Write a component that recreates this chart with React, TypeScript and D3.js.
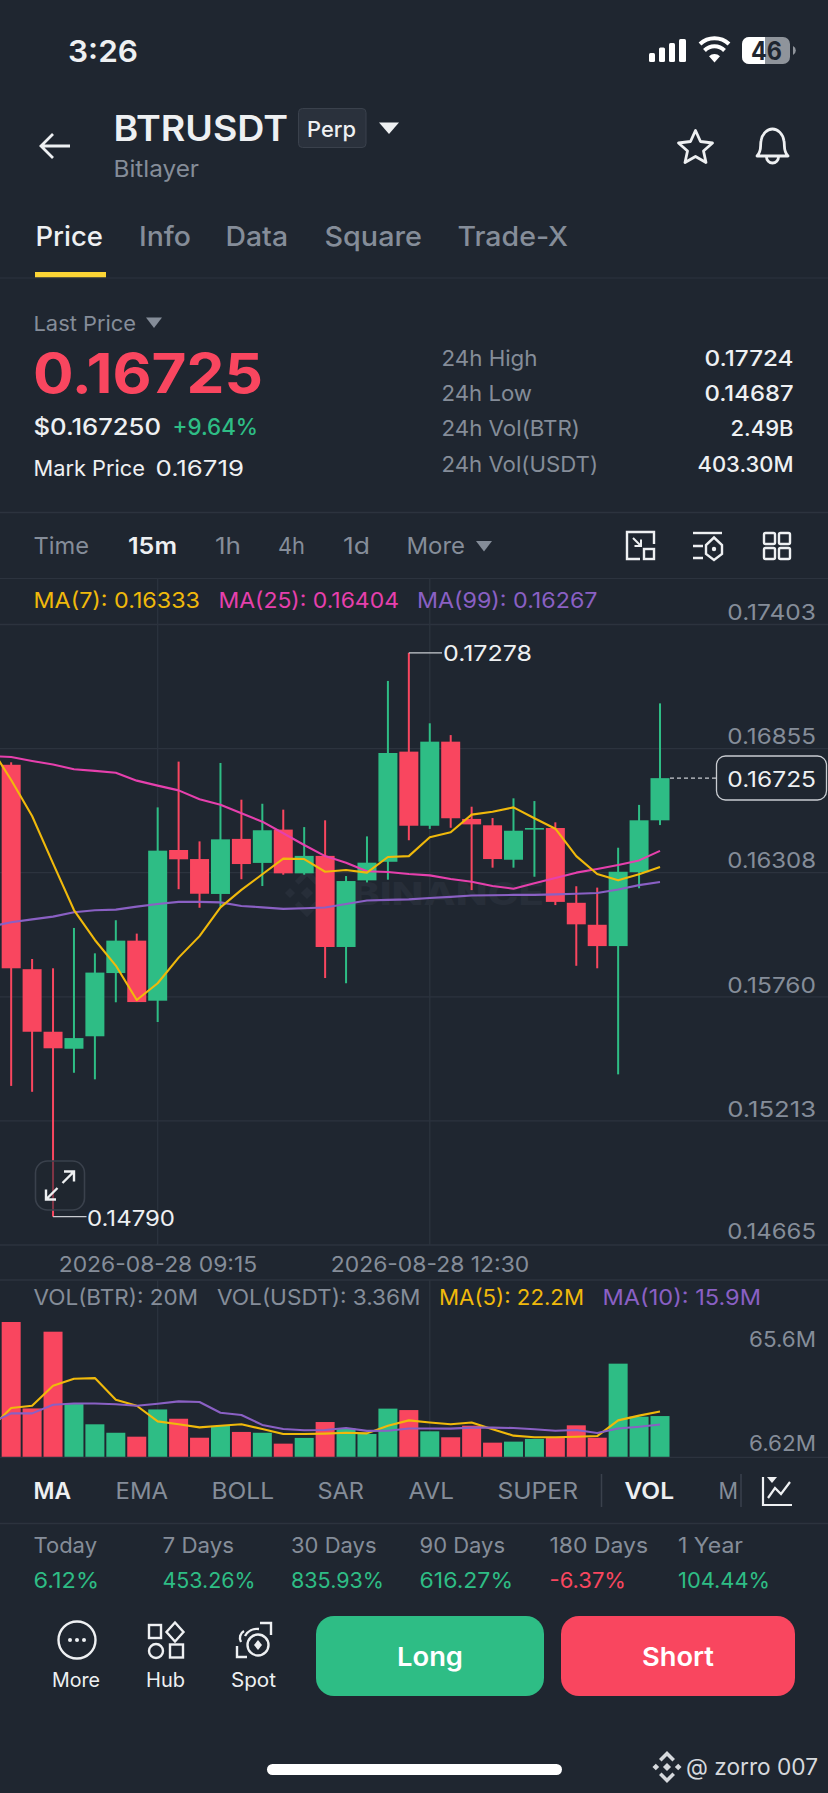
import React, { useEffect } from "react";
import * as d3 from "d3";

// ---------- chart data ----------
const opens = [0.16784,0.15882,0.15606,0.15531,0.15586,0.15865,0.16008,0.15743,0.16408,0.16368,0.16214,0.16457,0.16351,0.16498,0.16305,0.16382,0.1598,0.16274,0.16356,0.16842,0.16515,0.16886,0.16545,0.16517,0.16365,0.16499,0.16505,0.16175,0.16078,0.15984,0.1631,0.16539];
const closes = [0.15886,0.15606,0.15533,0.15578,0.15867,0.16008,0.15737,0.16405,0.16367,0.16215,0.16455,0.16346,0.16495,0.16305,0.16382,0.1598,0.16271,0.16352,0.16836,0.16515,0.16886,0.16548,0.16521,0.16368,0.16493,0.16505,0.16179,0.1608,0.15984,0.16312,0.16539,0.16725];
const highs = [0.16795,0.15927,0.15886,0.16064,0.15952,0.16098,0.16039,0.16596,0.16798,0.16446,0.16792,0.1663,0.16612,0.16586,0.16509,0.16539,0.16293,0.16468,0.17154,0.17278,0.16967,0.16915,0.16599,0.16549,0.16636,0.16624,0.1653,0.16248,0.16242,0.16418,0.16607,0.17055];
const lows = [0.15367,0.15341,0.1479,0.15425,0.15396,0.15736,0.15737,0.15649,0.16235,0.16153,0.16158,0.16279,0.16249,0.16299,0.16299,0.15843,0.1582,0.16265,0.16277,0.16451,0.16501,0.16506,0.16231,0.1633,0.1633,0.1629,0.16165,0.15897,0.15886,0.15418,0.16239,0.16518];
const volumes = [65.6,23.7,60.9,25.8,16.0,11.9,10.0,23.2,18.7,9.5,15.2,12.3,11.9,6.62,9.4,17.1,14.0,11.3,23.6,22.9,12.6,9.7,15.3,7.1,7.6,8.9,9.7,15.5,9.5,45.4,19.7,20.0];
// moving averages start one candle before the first visible one
const ma7 = [0.16864,0.16717,0.16558,0.16349,0.16143,0.16011,0.15898,0.15746,0.1582,0.15933,0.16028,0.16155,0.16232,0.16301,0.1637,0.16368,0.16312,0.1632,0.16308,0.16377,0.16381,0.16464,0.16486,0.16564,0.16577,0.16596,0.16548,0.16502,0.16381,0.16302,0.16274,0.16301,0.16333];
const ma25 = [0.16823,0.16818,0.16801,0.16785,0.16764,0.16757,0.16749,0.16714,0.16692,0.16671,0.16632,0.16608,0.1657,0.16533,0.16482,0.1643,0.16381,0.16352,0.16314,0.16311,0.16302,0.16296,0.1628,0.16268,0.16249,0.16237,0.16261,0.16284,0.16308,0.16324,0.16342,0.16362,0.16404];
const ma99 = [0.1607,0.16089,0.16102,0.16114,0.16133,0.16142,0.16145,0.16158,0.1617,0.16179,0.16179,0.16177,0.16161,0.16155,0.16148,0.16151,0.16154,0.1617,0.16185,0.16188,0.1619,0.16196,0.16201,0.16207,0.16208,0.1621,0.1621,0.16212,0.16215,0.16218,0.16234,0.16253,0.16267];
const volMa5 = [14.0,23.9,25.0,34.7,38.1,38.4,27.9,25.0,17.4,16.0,14.5,15.3,16.0,13.7,11.3,11.3,11.5,11.9,11.6,15.3,17.9,16.9,16.0,16.9,13.6,10.5,9.7,9.7,10.0,10.3,17.9,20.2,22.2];
const volMa10 = [16.5,21.3,21.3,25.5,26.1,26.1,25.7,25.0,26.0,27.1,26.8,21.6,20.5,15.7,13.7,13.1,13.2,14.2,12.8,12.9,14.0,14.0,13.9,14.4,14.4,14.2,13.6,12.9,13.2,11.8,14.0,14.8,15.9];
const priceTicks = [0.17403, 0.16855, 0.16308, 0.1576, 0.15213, 0.14665];
const timeTickIndex = [7, 20];
const timeTickLabels = ["2026-08-28 09:15", "2026-08-28 12:30"];
const volTicks = ["65.6M", "6.62M"];
const lastPrice = 0.16725;
const highMark = 0.17278;
const lowMark = 0.1479;

// ---------- page text ----------
const stats = [["24h High", "0.17724"], ["24h Low", "0.14687"], ["24h Vol(BTR)", "2.49B"], ["24h Vol(USDT)", "403.30M"]];
const perfLabels = ["Today", "7 Days", "30 Days", "90 Days", "180 Days", "1 Year"];
const perfValues = ["6.12%", "453.26%", "835.93%", "616.27%", "-6.37%", "104.44%"];

const BG = "#1f2630", GRID = "#2c333e", GRAY = "#858d99", WHITE = "#eef0f2";
const GREEN = "#2ebd85", RED = "#f9465f", YEL = "#f0b90b", PINK = "#e640ad", PUR = "#8a60c4";
const FONT = "Inter, Lato, sans-serif";

const x = d3.scaleLinear().domain([0, 31]).range([11.17, 660.0]);
const y = d3.scaleLinear().domain([0.14665, 0.17403]).range([1245, 624.5]);
const vy = d3.scaleLinear().domain([0, 65.6]).range([1457.3, 1322]);
const priceLine = d3.line<number>().x((_, i) => x(i - 1)).y((d) => y(d));
const volLine = d3.line<number>().x((_, i) => x(i - 1)).y((d) => vy(d));
const BODY = 19;

function T({ x, y, w, s, c = WHITE, fw = 400, children }: any) {
  return (
    <text x={x} y={y} fontSize={s * 0.94} fill={c} fontWeight={fw} fontFamily={FONT} textLength={w} lengthAdjust="spacingAndGlyphs">
      {children}
    </text>
  );
}

function Logo({ cx, cy, k, c }: any) {
  const sq = (dx: number, dy: number, r: number) => `M${cx + dx * k},${cy + (dy - r) * k}L${cx + (dx + r) * k},${cy + dy * k}L${cx + dx * k},${cy + (dy + r) * k}L${cx + (dx - r) * k},${cy + dy * k}Z`;
  const chev = (sgn: number) => `M${cx - 6 * k},${cy + sgn * 6 * k}L${cx},${cy + sgn * 12 * k}L${cx + 6 * k},${cy + sgn * 6 * k}`;
  return (
    <g>
      <path d={sq(0, 0, 3.6) + sq(-10, 0, 3) + sq(10, 0, 3)} fill={c} />
      <path d={chev(1) + chev(-1)} fill="none" stroke={c} strokeWidth={3.2 * k} />
    </g>
  );
}

export default function App() {
  useEffect(() => {
    document.body.style.margin = "0";
    document.body.style.background = BG;
  }, []);
  const ix = d3.range(closes.length);
  return (
    <svg width={828} height={1793} viewBox="0 0 828 1793" style={{ display: "block", position: "absolute", left: 0, top: 0 }}>
      <rect width={828} height={1793} fill={BG} />

      {/* status bar */}
      <T x={68} y={62} w={70} s={32} fw={600}>3:26</T>
      <g fill="#fff">
        <rect x={649} y={53} width={6} height={9} rx={1.5} />
        <rect x={659} y={47.5} width={6} height={14.5} rx={1.5} />
        <rect x={669} y={43} width={6} height={19} rx={1.5} />
        <rect x={679} y={39} width={7} height={23} rx={1.5} />
        <path d="M714.5,62.5l-5.5,-6.2a8,8 0 0 1 11,0z" />
      </g>
      <g fill="none" stroke="#fff" strokeWidth={4}>
        <path d="M704.5,50.5a14,14 0 0 1 20,0" />
        <path d="M700,44a21,21 0 0 1 29,0" />
      </g>
      <rect x={742} y={37} width={48} height={27} rx={7} fill="#8f949b" />
      <path d="M749,37h16v27h-16a7,7 0 0 1 -7,-7v-13a7,7 0 0 1 7,-7z" fill="#fff" />
      <path d="M793,46a5,5 0 0 1 0,9z" fill="#8f949b" />
      <T x={751} y={60} w={31} s={27} c="#1f2630" fw={700}>46</T>

      {/* title */}
      <path d="M70,146H41M53,134L41,146L53,158" fill="none" stroke={WHITE} strokeWidth={2.8} />
      <T x={113.5} y={141} w={174.5} s={37} fw={600}>BTRUSDT</T>
      <rect x={298.5} y={108.5} width={67.5} height={39} rx={4} fill="#2a313c" stroke="#3a414c" />
      <T x={307} y={137} w={49} s={23} fw={500}>Perp</T>
      <path d="M379,122.5H399L389,134Z" fill={WHITE} />
      <T x={113.5} y={177} w={85.5} s={24} c={GRAY}>Bitlayer</T>
      <path d="M695.5,130.5L700.5,141.5L712.5,143L703.5,151L706,162.5L695.5,156.5L685,162.5L687.5,151L678.5,143L690.5,141.5Z" fill="none" stroke={WHITE} strokeWidth={2.8} strokeLinejoin="round" />
      <path d="M757,156C762,151 760,146 761,141C762,134 767,129 772.5,129C778,129 783,134 784,141C785,146 783,151 788,156Z" fill="none" stroke={WHITE} strokeWidth={2.8} strokeLinejoin="round" />
      <path d="M766.5,157a6,6 0 0 0 12,0" fill="none" stroke={WHITE} strokeWidth={2.8} />

      {/* tabs */}
      <T x={35.5} y={246} w={67.5} s={29} fw={500}>Price</T>
      <T x={139} y={246} w={52} s={29} c={GRAY} fw={500}>Info</T>
      <T x={225.5} y={246} w={62.5} s={29} c={GRAY} fw={500}>Data</T>
      <T x={324.5} y={246} w={97.5} s={29} c={GRAY} fw={500}>Square</T>
      <T x={457.5} y={246} w={110.5} s={29} c={GRAY} fw={500}>Trade-X</T>
      <rect x={35} y={272} width={71} height={5.5} fill="#fcd535" />
      <line x1={0} x2={828} y1={278} y2={278} stroke={GRID} />

      {/* price header */}
      <T x={33.5} y={331} w={102.5} s={22} c={GRAY}>Last Price</T>
      <path d="M146,317.5H162L154,328Z" fill={GRAY} />
      <T x={33} y={393} w={230} s={59} c={RED} fw={700}>0.16725</T>
      <T x={33.5} y={434.5} w={127.5} s={24} fw={500}>$0.167250</T>
      <T x={172.5} y={434.5} w={85.5} s={24} c={GREEN} fw={500}>+9.64%</T>
      <T x={33.5} y={476} w={111.5} s={23}>Mark Price</T>
      <T x={155.5} y={476} w={88.5} s={23}>0.16719</T>
      {[[441.5, 96, 704.5, 89, 366], [441.5, 90.5, 704.5, 89, 401], [441.5, 138.5, 730.5, 63, 436], [441.5, 156.5, 697.5, 96, 471.5]].map((p, i) => (
        <g key={i}>
          <T x={p[0]} y={p[4]} w={p[1]} s={23} c={GRAY}>{stats[i][0]}</T>
          <T x={p[2]} y={p[4]} w={p[3]} s={23} fw={500}>{stats[i][1]}</T>
        </g>
      ))}
      <line x1={0} x2={828} y1={512.5} y2={512.5} stroke={GRID} strokeWidth={1.5} />

      {/* interval row */}
      <T x={33.5} y={554} w={55.5} s={25} c={GRAY}>Time</T>
      <T x={128} y={554} w={49} s={25} fw={600}>15m</T>
      <T x={215} y={554} w={26} s={25} c={GRAY}>1h</T>
      <T x={278} y={554} w={27} s={25} c={GRAY}>4h</T>
      <T x={343} y={554} w={27} s={25} c={GRAY}>1d</T>
      <T x={406.5} y={554} w={58.5} s={25} c={GRAY}>More</T>
      <path d="M476,541H492L484,551.5Z" fill={GRAY} />
      <g fill="none" stroke={WHITE} strokeWidth={2.4}>
        <path d="M640,559H627V532H654V544" />
        <rect x={644} y={549} width={10} height={10} />
        <path d="M633,538L641,546M641,539.5V546H634.5" strokeWidth={2} />
        <path d="M693,533H722" />
        <path d="M693,546H703M693,558H703" />
        <path d="M714,537.5L722,545V554L714,560L706,554V545Z" />
        <circle cx={714} cy={549} r={2.2} fill={WHITE} stroke="none" />
        <rect x={764} y={533} width={11} height={11} rx={1.5} />
        <rect x={779} y={533} width={11} height={11} rx={1.5} />
        <rect x={764} y={548} width={11} height={11} rx={1.5} />
        <rect x={779} y={548} width={11} height={11} rx={1.5} />
      </g>
      <line x1={0} x2={828} y1={578.5} y2={578.5} stroke={GRID} />

      {/* grid */}
      {priceTicks.map((t, i) => (
        <line key={i} x1={0} x2={828} y1={y(t)} y2={y(t)} stroke={GRID} strokeWidth={1.3} />
      ))}
      {timeTickIndex.map((t) => (
        <g key={t} stroke={GRID} strokeWidth={1.3}>
          <line x1={x(t)} x2={x(t)} y1={578.5} y2={1245} />
          <line x1={x(t)} x2={x(t)} y1={1280} y2={1457} />
        </g>
      ))}

      {/* watermark */}
      <Logo cx={307} cy={893} k={1.7} c="#272e39" />
      <text x={352} y={905} fontSize={31} fontWeight={800} fill="#272e39" fontFamily={FONT} textLength={192} lengthAdjust="spacingAndGlyphs">BINANCE</text>

      {/* legend */}
      <T x={33.5} y={607.5} w={166.5} s={23} c={YEL}>MA(7): 0.16333</T>
      <T x={218.5} y={607.5} w={180.5} s={23} c={PINK}>MA(25): 0.16404</T>
      <T x={417} y={607.5} w={180.5} s={23} c={PUR}>MA(99): 0.16267</T>

      {/* candles */}
      {ix.map((i) => {
        const c = closes[i] >= opens[i] ? GREEN : RED;
        const top = y(Math.max(opens[i], closes[i]));
        const bot = y(Math.min(opens[i], closes[i]));
        return (
          <g key={i} fill={c}>
            <rect x={x(i) - 1} width={2} y={y(highs[i])} height={y(lows[i]) - y(highs[i])} />
            <rect x={x(i) - BODY / 2} width={BODY} y={top} height={Math.max(bot - top, 1.6)} />
          </g>
        );
      })}
      {/* moving averages */}
      {[[ma99, PUR], [ma25, PINK], [ma7, YEL]].map(([d, c], i) => (
        <path key={i} d={priceLine(d as number[]) as string} fill="none" stroke={c as string} strokeWidth={2.1} strokeLinejoin="round" />
      ))}

      {/* high / low marks */}
      <line x1={x(19)} x2={442} y1={y(highMark)} y2={y(highMark)} stroke="#c9ccd1" strokeWidth={1.3} />
      <T x={443} y={661.3} w={89} s={23}>0.17278</T>
      <line x1={x(2)} x2={86.5} y1={y(lowMark)} y2={y(lowMark)} stroke="#c9ccd1" strokeWidth={1.3} />
      <T x={87} y={1226} w={88} s={23}>0.14790</T>

      {/* expand button */}
      <rect x={35.5} y={1161} width={49} height={49} rx={12} fill={BG} fillOpacity={0.55} stroke="#3a414c" strokeWidth={1.6} />
      <g fill="none" stroke={WHITE} strokeWidth={2.4}>
        <path d="M62.5,1183L74,1171.5M64,1171.5H74V1181.5" />
        <path d="M57.5,1188L46,1199.5M46,1189.5V1199.5H56" />
      </g>

      {/* price axis labels */}
      {priceTicks.map((t, i) => (
        <T key={i} x={727.3} y={y(t) - (i === 5 ? 6 : 4.2)} w={88.7} s={23} c={GRAY}>{t.toFixed(5)}</T>
      ))}
      {/* last price */}
      <line x1={670} x2={716} y1={y(lastPrice)} y2={y(lastPrice)} stroke="#c9ccd1" strokeWidth={1.3} strokeDasharray="4 3" />
      <rect x={716.5} y={756} width={110} height={44} rx={9} fill={BG} stroke="#c9ccd1" strokeWidth={1.3} />
      <T x={727.3} y={786.7} w={88.7} s={23}>{lastPrice.toFixed(5)}</T>

      {/* time axis */}
      {timeTickIndex.map((t, i) => (
        <T key={t} x={x(t) - 99} y={1271.7} w={198.5} s={23} c={GRAY}>{timeTickLabels[i]}</T>
      ))}
      <line x1={0} x2={828} y1={1280} y2={1280} stroke={GRID} strokeWidth={1.3} />

      {/* volume legend */}
      <T x={33.5} y={1305} w={164.5} s={23} c={GRAY}>VOL(BTR): 20M</T>
      <T x={217} y={1305} w={203.5} s={23} c={GRAY}>VOL(USDT): 3.36M</T>
      <T x={439} y={1305} w={145} s={23} c={YEL}>MA(5): 22.2M</T>
      <T x={602.5} y={1305} w={158.5} s={23} c={PUR}>MA(10): 15.9M</T>

      {/* volume */}
      {ix.map((i) => (
        <rect key={i} x={x(i) - BODY / 2} width={BODY} y={vy(volumes[i])} height={vy(0) - vy(volumes[i])} fill={closes[i] >= opens[i] ? GREEN : RED} />
      ))}
      <path d={volLine(volMa5) as string} fill="none" stroke={YEL} strokeWidth={2.1} strokeLinejoin="round" />
      <path d={volLine(volMa10) as string} fill="none" stroke={PUR} strokeWidth={2.1} strokeLinejoin="round" />
      <T x={749} y={1346.7} w={67} s={23} c={GRAY}>{volTicks[0]}</T>
      <T x={749} y={1450.7} w={67} s={23} c={GRAY}>{volTicks[1]}</T>
      <line x1={0} x2={828} y1={1457.3} y2={1457.3} stroke={GRID} strokeWidth={1.3} />

      {/* indicator row */}
      <T x={33.5} y={1499} w={37.5} s={24} fw={600}>MA</T>
      <T x={115.5} y={1499} w={52.5} s={24} c={GRAY}>EMA</T>
      <T x={211.5} y={1499} w={62.5} s={24} c={GRAY}>BOLL</T>
      <T x={317.5} y={1499} w={46.5} s={24} c={GRAY}>SAR</T>
      <T x={408.5} y={1499} w={45.5} s={24} c={GRAY}>AVL</T>
      <T x={497.5} y={1499} w={80.5} s={24} c={GRAY}>SUPER</T>
      <line x1={601.5} x2={601.5} y1={1474} y2={1507} stroke="#3a414c" strokeWidth={1.5} />
      <T x={624.5} y={1499} w={49.5} s={24} fw={600}>VOL</T>
      <T x={718.5} y={1499} w={19.5} s={24} c={GRAY}>M</T>
      <line x1={741} x2={741} y1={1474} y2={1507} stroke="#3a414c" strokeWidth={1.5} />
      <path d="M763,1477V1505H792M768,1498L775,1488L781,1494L790,1482" fill="none" stroke={WHITE} strokeWidth={2.2} />
      <path d="M767,1477H777L772,1483Z" fill={WHITE} />
      <line x1={0} x2={828} y1={1523.5} y2={1523.5} stroke={GRID} strokeWidth={1.3} />

      {/* performance */}
      {[[33.5, 63.5, 65.5], [162.5, 71.5, 93], [291, 85.5, 93], [419.5, 85.5, 93.5], [549.5, 98.5, 76.5], [678, 65, 92]].map((p, i) => (
        <g key={i}>
          <T x={p[0]} y={1553} w={p[1]} s={23} c={GRAY}>{perfLabels[i]}</T>
          <T x={p[0]} y={1588} w={p[2]} s={23} c={perfValues[i].startsWith("-") ? RED : GREEN}>{perfValues[i]}</T>
        </g>
      ))}

      {/* bottom bar */}
      <g fill="none" stroke={WHITE} strokeWidth={2.4}>
        <circle cx={77} cy={1640} r={18.5} />
        <rect x={149} y={1625} width={12} height={13} />
        <path d="M175,1622.5L183.5,1632L175,1641.5L166.5,1632Z" />
        <circle cx={156} cy={1651} r={7} />
        <rect x={170} y={1644.5} width={13} height={13} />
        <path d="M259,1629A14,14 0 0 0 245,1636" />
        <path d="M260,1623H271V1635M237,1646V1657H247" />
        <path d="M241,1642A8,8 0 0 1 244,1631" />
        <circle cx={258} cy={1645} r={10.5} />
        <path d="M258,1640L262,1645L258,1650L254,1645Z" fill={WHITE} stroke="none" />
      </g>
      <g fill={WHITE}>
        <circle cx={70} cy={1640} r={2} />
        <circle cx={77} cy={1640} r={2} />
        <circle cx={84} cy={1640} r={2} />
      </g>
      <T x={52} y={1686.7} w={48} s={21}>More</T>
      <T x={146} y={1686.7} w={39} s={21}>Hub</T>
      <T x={231} y={1686.7} w={45} s={21}>Spot</T>
      <rect x={316} y={1616} width={228} height={80} rx={18} fill={GREEN} />
      <rect x={561} y={1616} width={234} height={80} rx={18} fill={RED} />
      <T x={397} y={1665.7} w={66} s={28} c="#fff" fw={600}>Long</T>
      <T x={642} y={1665.7} w={72} s={28} c="#fff" fw={600}>Short</T>
      <rect x={267} y={1764} width={295} height={11} rx={5.5} fill="#fff" />
      <Logo cx={667} cy={1767} k={1.12} c="#d6d9dd" />
      <T x={686} y={1775} w={132} s={24} c="#d6d9dd">@ zorro 007</T>
    </svg>
  );
}
